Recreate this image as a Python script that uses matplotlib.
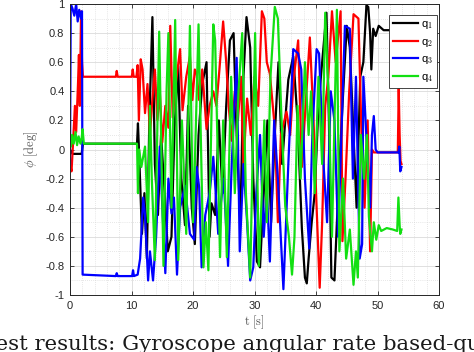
# plot.py
# Quaternion components over time (gyroscope angular rate based)

import numpy as np
import matplotlib
matplotlib.use("Agg")
import matplotlib.pyplot as plt
from matplotlib.ticker import MultipleLocator

# Series: (time [s], value) turning points
q1_pts = [
    (0.0, 0.0), (0.4, -0.03), (1.9, -0.03), (2.1, 0.04), (10.9, 0.04),
    (11.05, 0.18), (11.3, -0.1), (11.7, -0.58), (12.1, -0.3), (12.5, -0.75),
    (12.9, 0.2), (13.4, 0.91), (13.8, -0.1), (14.3, -0.45), (14.8, 0.1),
    (15.4, -0.3), (15.9, -0.7), (16.5, -0.6), (17.0, 0.15), (17.6, 0.57),
    (18.1, -0.2), (18.7, -0.52), (19.2, 0.3), (19.8, -0.4), (20.3, -0.65),
    (20.9, 0.1), (21.5, 0.45), (22.2, 0.6), (22.7, -0.6), (23.0, -0.37),
    (23.6, -0.45), (24.2, 0.2), (24.8, -0.3), (25.4, 0.3), (26.0, 0.75),
    (26.6, 0.8), (27.1, 0.1), (27.7, -0.5), (28.2, 0.5), (28.7, 0.91),
    (29.3, 0.7), (29.8, -0.2), (30.4, -0.77), (30.9, -0.81), (31.5, -0.3),
    (32.1, 0.2), (32.7, -0.5), (33.3, 0.1), (33.9, 0.6), (34.5, -0.1),
    (35.0, 0.2), (35.5, 0.48), (36.3, 0.64), (37.0, 0.2), (37.7, -0.54),
    (38.2, -0.88), (38.5, -0.92), (38.8, -0.75), (39.3, -0.5), (39.8, -0.3),
    (40.4, 0.3), (41.0, 0.6), (41.7, 0.94), (42.1, 0.2), (42.5, -0.88),
    (43.0, -0.9), (43.6, -0.3), (44.3, 0.3), (45.0, 0.85), (45.5, 0.7),
    (46.0, 0.2), (46.6, -0.4), (47.2, 0.5), (47.7, 0.6), (48.2, 0.99),
    (48.5, 0.98), (48.8, 0.8), (49.0, 0.55), (49.3, 0.83), (49.7, 0.78),
    (50.2, 0.85), (51.0, 0.82), (53.8, 0.82),
]

q2_pts = [
    (0.0, -0.1), (0.25, -0.15), (0.5, 0.05), (0.8, 0.3), (1.0, 0.12),
    (1.3, 0.45), (1.45, 0.65), (1.6, 0.3), (1.8, 0.95), (1.95, 0.6),
    (2.1, 0.5), (7.45, 0.5), (7.6, 0.54), (7.75, 0.5), (10.05, 0.5),
    (10.2, 0.55), (10.35, 0.5), (10.8, 0.5), (11.0, 0.58), (11.2, 0.2),
    (11.5, 0.62), (11.8, 0.55), (12.2, 0.25), (12.6, 0.45), (13.0, 0.1),
    (13.4, 0.35), (13.8, 0.55), (14.2, 0.2), (14.6, 0.4), (15.0, 0.05),
    (15.5, 0.3), (16.0, 0.15), (16.3, 0.85), (16.7, 0.22), (17.2, 0.45),
    (17.9, 0.69), (18.3, 0.27), (18.9, 0.5), (19.5, 0.64), (19.9, 0.34),
    (20.3, 0.55), (20.6, 0.52), (21.0, 0.34), (21.5, 0.55), (22.2, 0.14),
    (22.7, 0.3), (23.3, 0.4), (23.8, 0.3), (24.3, 0.55), (24.9, 0.88),
    (25.4, 0.6), (25.8, 0.3), (26.3, 0.06), (26.8, 0.4), (27.3, 0.2),
    (27.8, 0.5), (28.2, -0.1), (28.8, 0.35), (29.4, 0.1), (30.0, 0.5),
    (30.6, 0.3), (31.2, 0.95), (31.6, 0.9), (32.0, 0.6), (32.5, 0.52),
    (33.3, 0.15), (33.8, -0.5), (34.3, 0.1), (35.2, 0.26), (35.8, 0.1),
    (36.4, 0.5), (37.1, 0.75), (37.7, -0.12), (38.3, 0.3), (39.0, 0.77),
    (39.6, 0.2), (40.1, -0.4), (40.6, -0.95), (41.0, -0.5), (41.5, 0.3),
    (42.0, 0.5), (42.6, 0.95), (43.2, 0.6), (44.0, 0.95), (44.3, -0.63),
    (44.8, -0.2), (45.4, 0.4), (46.1, 0.93), (46.9, 0.9), (47.4, 0.1),
    (47.9, -0.4), (48.4, 0.2), (48.8, -0.7), (49.1, 0.0), (49.4, -0.02),
    (53.3, -0.02), (53.45, 0.42), (53.6, 0.1), (53.75, -0.08), (53.9, -0.1),
]

q3_pts = [
    (0.0, -0.1), (0.12, 1.0), (0.4, 0.97), (0.7, 0.92), (1.0, 1.0),
    (1.25, 0.88), (1.5, 0.96), (1.8, 0.9), (1.95, 0.95), (2.05, -0.86),
    (7.45, -0.87), (7.6, -0.85), (7.75, -0.87), (10.1, -0.87), (10.25, -0.83),
    (10.4, -0.87), (11.0, -0.86), (11.4, -0.75), (11.9, -0.33), (12.2, -0.45),
    (12.7, -0.9), (13.0, -0.7), (13.5, -0.9), (14.0, -0.6), (14.6, 0.02),
    (15.2, -0.58), (15.5, -0.85), (16.0, -0.2), (16.5, -0.44), (16.9, -0.33),
    (17.4, -0.86), (17.9, -0.4), (18.7, -0.25), (19.5, -0.58), (20.2, -0.62),
    (20.6, -0.12), (21.0, -0.26), (21.4, -0.81), (22.0, -0.45), (22.7, -0.3),
    (23.3, -0.05), (23.7, -0.3), (24.1, -0.58), (24.5, -0.38), (25.0, -0.2),
    (25.7, -0.8), (26.3, -0.1), (27.1, 0.63), (27.6, -0.7), (28.2, -0.1),
    (28.8, -0.5), (29.3, -0.9), (29.8, -0.81), (30.3, -0.3), (30.9, 0.1),
    (31.5, -0.6), (32.0, -0.26), (32.5, -0.77), (33.2, 0.2), (33.8, -0.2),
    (34.7, -0.96), (35.5, -0.1), (36.3, 0.69), (37.1, 0.66), (37.6, 0.55),
    (38.2, -0.2), (38.9, -0.68), (39.4, 0.1), (40.1, 0.69), (40.5, 0.66),
    (41.2, -0.08), (41.8, -0.5), (42.4, 0.4), (43.0, 0.2), (43.6, -0.6),
    (44.7, 0.85), (45.5, 0.83), (46.0, -0.2), (46.5, 0.5), (47.1, -0.75),
    (47.5, -0.65), (47.7, 0.5), (48.3, 0.0), (48.8, -0.4), (49.1, 0.1),
    (49.4, 0.23), (49.7, 0.0), (50.0, -0.02), (53.4, -0.02), (53.55, 0.02),
    (53.7, -0.15), (53.9, -0.12),
]

q4_pts = [
    (0.0, 0.1), (0.15, 0.02), (0.35, 0.1), (0.6, 0.04), (0.9, 0.12),
    (1.15, 0.03), (1.4, 0.09), (1.7, 0.04), (1.9, 0.08), (2.05, 0.14),
    (2.25, 0.04), (10.9, 0.04), (11.05, -0.3), (11.25, 0.0), (11.6, -0.12),
    (12.2, 0.02), (12.7, -0.5), (13.0, 0.3), (13.3, -0.2), (13.8, -0.76),
    (14.5, 0.81), (15.2, -0.8), (15.7, 0.4), (16.0, 0.8), (16.5, -0.4),
    (17.1, 0.89), (17.6, -0.76), (18.2, 0.2), (18.9, -0.58), (19.5, 0.85),
    (20.0, -0.5), (20.3, -0.1), (20.9, 0.86), (21.7, -0.81), (22.1, -0.5),
    (22.5, -0.83), (23.3, 0.86), (23.6, 0.75), (24.4, -0.74), (24.9, 0.2),
    (25.5, -0.74), (26.2, 0.5), (26.8, -0.3), (27.4, 0.4), (28.0, 0.8),
    (28.6, -0.3), (29.3, -0.88), (30.1, 0.8), (30.7, -0.8), (31.2, -0.3),
    (31.6, 0.2), (32.0, -0.5), (32.6, 0.5), (33.3, 0.98), (33.8, 0.9),
    (34.4, 0.2), (35.0, -0.39), (35.6, -0.6), (36.1, -0.86), (36.5, -0.6),
    (37.0, 0.3), (37.5, -0.2), (38.2, 0.6), (38.8, 0.1), (39.2, 0.4),
    (39.8, -0.3), (40.4, 0.5), (41.0, -0.1), (41.5, 0.94), (42.1, 0.3),
    (42.6, -0.6), (43.4, 0.96), (43.8, -0.7), (44.4, -0.2), (44.9, -0.75),
    (45.5, -0.55), (46.1, -0.93), (46.5, -0.7), (46.8, -0.88), (47.3, 0.1),
    (47.8, -0.2), (48.3, 0.1), (48.6, -0.46), (49.1, -0.7), (49.4, -0.5),
    (49.8, -0.62), (50.2, -0.52), (50.6, -0.56), (51.5, -0.54), (52.5, -0.55),
    (53.2, -0.56), (53.4, -0.33), (53.6, -0.52), (53.7, -0.58), (53.9, -0.55),
]

labels = ["q$_1$", "q$_2$", "q$_3$", "q$_4$"]
colors = ["black", "#ff0000", "#0000ff", "#12e012"]
x_ticks = [0, 10, 20, 30, 40, 50, 60]
y_ticks = [-1, -0.8, -0.6, -0.4, -0.2, 0, 0.2, 0.4, 0.6, 0.8, 1]
y_tick_labels = ["-1", "-0.8", "-0.6", "-0.4", "-0.2", "0", "0.2", "0.4", "0.6", "0.8", "1"]
caption = "Test results: Gyroscope angular rate based-quaternion"

plt.rcParams["mathtext.fontset"] = "cm"
plt.rcParams["font.family"] = ["Liberation Sans", "DejaVu Sans"]
dark = "#262626"

fig = plt.figure(figsize=(4.74, 3.52), dpi=100)
ax = fig.add_axes([70 / 474, 1 - 295 / 352, 369 / 474, 291 / 352])

for pts, lab, col in zip([q1_pts, q2_pts, q3_pts, q4_pts], labels, colors):
    arr = np.array(pts)
    ax.plot(arr[:, 0], arr[:, 1], color=col, lw=1.6, label=lab)

ax.set_xlim(0, 60)
ax.set_ylim(-1, 1)
ax.set_xticks(x_ticks)
ax.set_yticks(y_ticks)
ax.set_yticklabels(y_tick_labels)
ax.xaxis.set_minor_locator(MultipleLocator(2))
ax.yaxis.set_minor_locator(MultipleLocator(0.1))
ax.grid(True, which="major", color="#dadada", lw=0.6, ls="-")
ax.grid(True, which="minor", color="#d0d0d0", lw=0.5, ls=(0, (1, 2)))
ax.set_axisbelow(True)
ax.tick_params(which="major", direction="in", length=3, width=0.6, colors=dark,
               labelsize=8, top=True, right=True, pad=4)
ax.tick_params(which="minor", length=0, top=True, right=True)
for s in ax.spines.values():
    s.set_color(dark)
    s.set_linewidth(0.7)

ax.set_xlabel(r"$\mathrm{t\ [s]}$", fontsize=9, color="#555555", labelpad=2)
ax.set_ylabel(r"$\phi\ \mathrm{[deg]}$", fontsize=9, color="#555555", labelpad=4)

leg = ax.legend(loc="upper right", bbox_to_anchor=(0.995, 0.962), borderaxespad=0,
                fontsize=8, handlelength=2.2, handletextpad=0.3, labelspacing=0.5,
                borderpad=0.35, fancybox=False, framealpha=1)
leg.get_frame().set_edgecolor(dark)
leg.get_frame().set_linewidth(0.6)

fig.text(-0.035, 0.006, caption, family="DejaVu Serif", fontsize=15.3, color="#1a1a1a",
         ha="left", va="baseline")

fig.savefig("out.png", dpi=100)
